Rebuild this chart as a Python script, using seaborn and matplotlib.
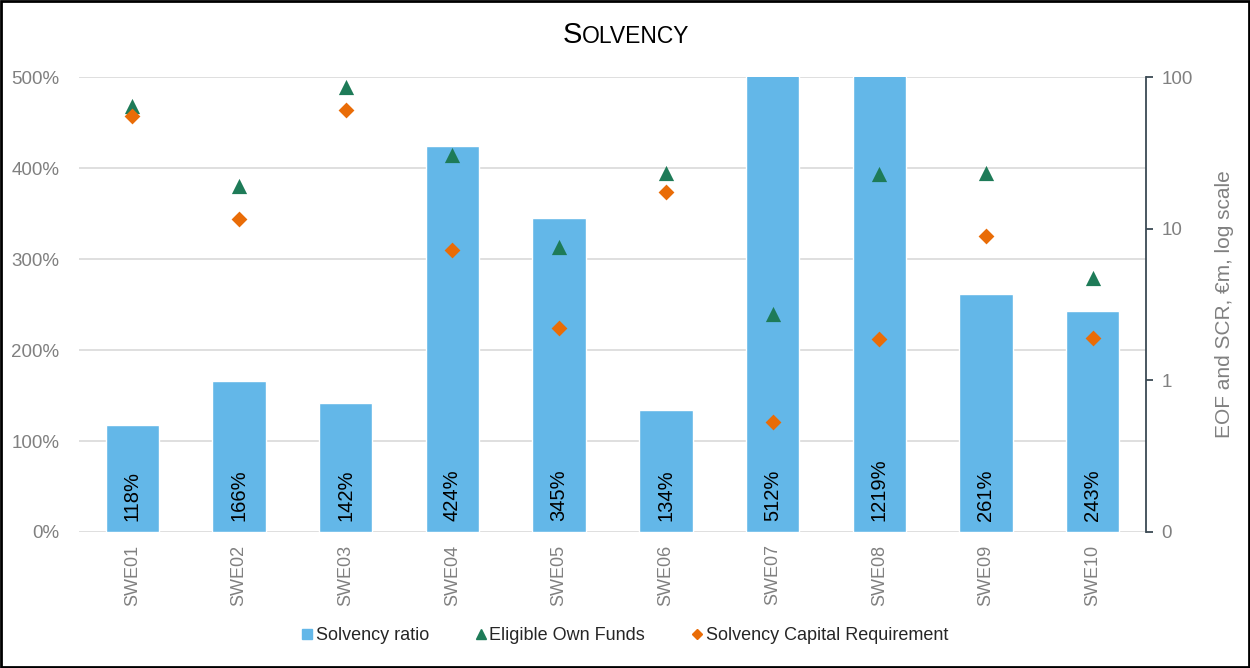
import numpy as np
import pandas as pd
import seaborn as sns
import matplotlib.pyplot as plt
from matplotlib.patches import Rectangle
from matplotlib.lines import Line2D
from matplotlib.ticker import FixedLocator, FixedFormatter, NullLocator

categories = ['SWE01', 'SWE02', 'SWE03', 'SWE04', 'SWE05',
              'SWE06', 'SWE07', 'SWE08', 'SWE09', 'SWE10']
solvency_ratio = [118, 166, 142, 424, 345, 134, 512, 1219, 261, 243]
eligible_own_funds = [64.5, 19.1, 86.0, 30.5, 7.6, 23.2, 2.75, 22.9, 23.2, 4.7]
scr = [55.3, 11.5, 60.6, 7.2, 2.2, 17.4, 0.53, 1.86, 8.9, 1.9]

bar_color = '#63b7e8'
eof_color = '#1e7b58'
scr_color = '#e96c07'
grey = '#808080'

sns.set_theme(style='white')
plt.rcParams['font.family'] = ['Liberation Sans', 'DejaVu Sans']

df = pd.DataFrame({'cat': categories, 'ratio': solvency_ratio,
                   'eof': eligible_own_funds, 'scr': scr})

fig = plt.figure(figsize=(12.5, 6.68), dpi=100)
ax = fig.add_axes([0.0632, 0.2036, 0.8536, 0.6811])

sns.barplot(data=df, x='cat', y='ratio', color=bar_color, width=0.5,
            saturation=1, ax=ax, zorder=2)
ax.set_ylim(0, 500)
ax.set_xlim(-0.5, 9.5)
ax.set_yticks([0, 100, 200, 300, 400, 500])
ax.set_yticklabels([f'{v}%' for v in [0, 100, 200, 300, 400, 500]])
ax.yaxis.grid(True, color='#d9d9d9', linewidth=1.2, zorder=0)
ax.set_axisbelow(True)
for s in ax.spines.values():
    s.set_visible(False)
ax.tick_params(axis='y', length=0, pad=14, labelsize=13.5, labelcolor=grey)
ax.tick_params(axis='x', length=0, pad=9, labelsize=13, labelcolor=grey,
               labelrotation=90)
ax.set_xlabel('')
ax.set_ylabel('')

for i, v in enumerate(solvency_ratio):
    ax.text(i, 12, f'{v}%', rotation=90, ha='center', va='bottom',
            fontsize=14.5, color='black', zorder=3)

ax2 = ax.twinx()
ax2.set_yscale('log')
ax2.set_ylim(0.1, 100)
sns.scatterplot(data=df, x='cat', y='eof', marker='^', s=120, color=eof_color,
                linewidth=0, ax=ax2, zorder=4)
sns.scatterplot(data=df, x='cat', y='scr', marker='D', s=65, color=scr_color,
                linewidth=0, ax=ax2, zorder=4)
ax2.set_xlim(-0.5, 9.5)
ax2.yaxis.set_major_locator(FixedLocator([0.1, 1, 10, 100]))
ax2.yaxis.set_major_formatter(FixedFormatter(['0', '1', '10', '100']))
ax2.yaxis.set_minor_locator(NullLocator())
for k in ['top', 'left', 'bottom']:
    ax2.spines[k].set_visible(False)
ax2.spines['right'].set_color('#3b4a54')
ax2.spines['right'].set_linewidth(1.3)
ax2.tick_params(axis='y', which='major', length=5, width=1.3, color='#3b4a54',
                direction='out', pad=6, labelsize=13.5, labelcolor=grey)
ax2.set_ylabel('EOF and SCR, €m, log scale', fontsize=15, color=grey, labelpad=16)
ax2.set_xlabel('')

# title in small caps
fig.text(0.4656, 0.9356, 'S', ha='right', va='baseline', fontsize=21, color='black')
fig.text(0.4656, 0.9356, 'OLVENCY', ha='left', va='baseline', fontsize=16.5, color='black')

handles = [
    Line2D([], [], linestyle='none', marker='s', markersize=7, color=bar_color),
    Line2D([], [], linestyle='none', marker='^', markersize=7, color=eof_color),
    Line2D([], [], linestyle='none', marker='D', markersize=5, color=scr_color),
]
fig.legend(handles, ['Solvency ratio', 'Eligible Own Funds', 'Solvency Capital Requirement'],
           loc='center', bbox_to_anchor=(0.5, 0.048), ncol=3, frameon=False,
           fontsize=13, handlelength=0.6, handletextpad=0.15, columnspacing=2.6)

fig.patches.append(Rectangle((0.001, 0.002), 0.998, 0.996, transform=fig.transFigure,
                             fill=False, edgecolor='black', linewidth=2))

fig.savefig('out.png', dpi=100)
